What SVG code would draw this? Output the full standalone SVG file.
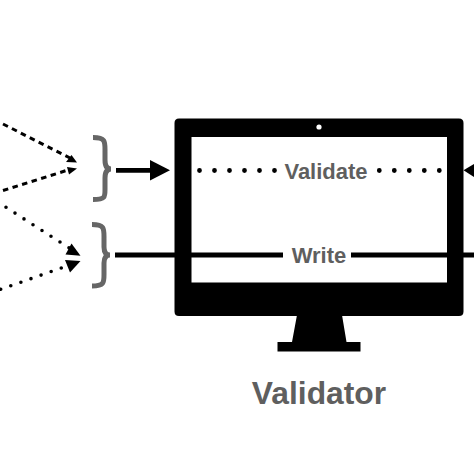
<svg xmlns="http://www.w3.org/2000/svg" width="474" height="474" viewBox="0 0 474 474">
<style>
.lbl{font-family:"Liberation Sans",Arial,sans-serif;font-weight:700;fill:#5f5f5f;text-anchor:middle}
.brace{fill:none;stroke:#666;stroke-width:5}
.dash{fill:none;stroke:#000;stroke-width:3;stroke-dasharray:5.500 4.500}
.dot{fill:none;stroke:#000;stroke-width:3.600;stroke-linecap:round;stroke-dasharray:0 10.700}
.dotw{fill:none;stroke:#000;stroke-width:4.800;stroke-linecap:round;stroke-dasharray:0 15}
.solid{fill:none;stroke:#000;stroke-width:4.800}
</style>
<rect width="474" height="474" fill="#fff"/>
<g id="validator">
<path fill="#000" d="M179 118.500H459Q463.500 118.500 463.500 123V311.500Q463.500 316 459 316H179Q174.500 316 174.500 311.500V123Q174.500 118.500 179 118.500ZM191.500 137V282.500H447V137Z" fill-rule="evenodd"/>
<path fill="#000" d="M297 315H342L346.500 342H360.500V351.500H277.500V342H292Z"/>
<circle cx="319" cy="127" r="2.600" fill="#fff"/>
<text class="lbl" x="319" y="404" font-size="31.800">Validator</text>
</g>
<g id="brace-top"><path class="brace" d="M93 137.500C106 137.500 105 142 105 152V160C105 166 107 169 111 169C107 169 105 172 105 178V187C105 197 106 199.500 93 199.500"/></g>
<g id="brace-bottom"><path class="brace" d="M92 224.500C105 224.500 104 229 104 239V247C104 252 106 255 110 255C106 255 104 258 104 263V272C104 282 105 286 92 286"/></g>
<g id="connectors">
<path class="dash" d="M3 124L70 158"/>
<path fill="#000" d="M77 162.500L71.500 155L66 162Z"/>
<path class="dash" d="M3 190.500L68 170"/>
<path fill="#000" d="M77 168.500L67 167L69 174.500Z"/>
<path class="dot" d="M6 207.300L70 248.500"/>
<path fill="#000" d="M80.500 255.700L71.500 243.500L65.500 254.500Z"/>
<path class="dot" d="M0.700 289.300L62 267.700"/>
<path fill="#000" d="M80.500 261L65 260L70 272.500Z"/>
<path class="solid" d="M116 170.300H152"/>
<path fill="#000" d="M170 170.300L150 160V180.500Z"/>
<path fill="#000" d="M463.500 170.300L474 164V177Z"/>
<path class="dotw" d="M199.500 170.500H275"/>
<path class="dotw" d="M379.300 170.500H440"/>
<path class="solid" d="M115 255H283M351 255H474"/>
</g>
<text class="lbl" x="326" y="178.500" font-size="22">Validate</text>
<text class="lbl" x="319" y="263" font-size="22">Write</text>
</svg>
